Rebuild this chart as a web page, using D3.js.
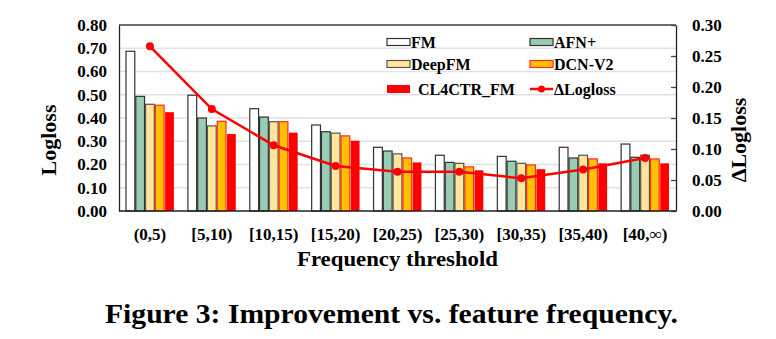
<!DOCTYPE html>
<html><head><meta charset="utf-8">
<script src="https://cdn.jsdelivr.net/npm/d3@7"></script>
<style>body{margin:0;background:#fff}svg{display:block}text{font-family:"Liberation Serif","Times New Roman",serif;font-weight:bold}</style>
</head><body>
<svg id="c" width="776" height="339"></svg>
<script>
const categories = ["(0,5)","[5,10)","[10,15)","[15,20)","[20,25)","[25,30)","[30,35)","[35,40)","[40,\u221E)"];
const seriesNames = ["FM","AFN+","DeepFM","DCN-V2","CL4CTR_FM"];
const FM      = [0.687,0.498,0.440,0.370,0.274,0.240,0.235,0.274,0.288];
const AFN     = [0.493,0.400,0.404,0.341,0.258,0.209,0.214,0.228,0.231];
const DeepFM  = [0.459,0.366,0.384,0.335,0.246,0.205,0.205,0.240,0.240];
const DCNV2   = [0.455,0.386,0.384,0.323,0.228,0.190,0.198,0.224,0.224];
const CL4CTR  = [0.425,0.331,0.337,0.302,0.209,0.175,0.180,0.205,0.205];
const deltaLogloss = [0.2656,0.1645,0.106,0.0726,0.0634,0.0634,0.0527,0.067,0.0855];
const leftTicks = [0,0.1,0.2,0.3,0.4,0.5,0.6,0.7,0.8];
const rightTicks = [0,0.05,0.1,0.15,0.2,0.25,0.3];

const series = [FM, AFN, DeepFM, DCNV2, CL4CTR];
const fills   = ["#ffffff","#98cdb3","#ffe69b","#ffc000","#ff0000"];
const strokes = ["#333333","#333333","#555555","#ff2a2a","none"];

const svg = d3.select("#c");
const L = 119, R = 676, T = 25, B = 211;
const x = d3.scaleBand().domain(categories).range([L, R]).paddingInner(0.21).paddingOuter(0.105);
const xs = d3.scaleBand().domain(d3.range(5)).range([0, x.bandwidth()]);
const y = d3.scaleLinear().domain([0, 0.8]).range([B, T]);
const y2 = d3.scaleLinear().domain([0, 0.3]).range([B, T]);

// grid
svg.append("g").selectAll("line").data(leftTicks.slice(1)).join("line")
  .attr("x1", L).attr("x2", R).attr("y1", d => y(d)).attr("y2", d => y(d))
  .attr("stroke", "#e2e2e2").attr("stroke-width", 1.5);

// bars
series.forEach((vals, si) => {
  svg.append("g").selectAll("rect").data(vals).join("rect")
    .attr("x", (d, i) => x(categories[i]) + xs(si) + 0.5)
    .attr("y", d => y(d))
    .attr("width", xs.bandwidth() - 1)
    .attr("height", d => B - y(d))
    .attr("fill", fills[si])
    .attr("stroke", strokes[si])
    .attr("stroke-width", 1.2);
});

// frame
svg.append("line").attr("x1", L).attr("x2", R).attr("y1", T).attr("y2", T).attr("stroke", "#444").attr("stroke-width", 1.3);
// left axis
const gl = svg.append("g").attr("transform", `translate(${L},0)`)
  .call(d3.axisLeft(y).tickValues(leftTicks).tickFormat(d3.format(".2f")).tickSize(0).tickPadding(12));
gl.select(".domain").attr("stroke", "#222").attr("stroke-width", 1.3);
gl.selectAll("text").attr("font-size", 17).attr("fill", "#000");
// right axis
const gr = svg.append("g").attr("transform", `translate(${R},0)`)
  .call(d3.axisRight(y2).tickValues(rightTicks).tickFormat(d3.format(".2f")).tickSizeInner(-5).tickSizeOuter(0).tickPadding(16));
gr.select(".domain").attr("stroke", "#222").attr("stroke-width", 1.3);
gr.selectAll(".tick line").attr("stroke", "#444").attr("stroke-width", 1.3);
gr.selectAll("text").attr("font-size", 17).attr("fill", "#000");
// bottom axis
svg.append("line").attr("x1", L).attr("x2", R).attr("y1", B).attr("y2", B).attr("stroke", "#222").attr("stroke-width", 1.3);
const gb = svg.append("g").attr("transform", `translate(0,${B})`)
  .call(d3.axisBottom(x).tickSize(0).tickPadding(17));
gb.select(".domain").remove();
gb.selectAll("text").attr("font-size", 17).attr("fill", "#000");

// delta line
const line = d3.line().x((d, i) => x(categories[i]) + x.bandwidth() / 2).y(d => y2(d));
svg.append("path").datum(deltaLogloss).attr("d", line).attr("fill", "none").attr("stroke", "#ff0000").attr("stroke-width", 2.5);
svg.append("g").selectAll("circle").data(deltaLogloss).join("circle")
  .attr("cx", (d, i) => x(categories[i]) + x.bandwidth() / 2).attr("cy", d => y2(d)).attr("r", 4).attr("fill", "#ff0000");

// axis titles
svg.append("text").attr("transform", "translate(56,140) rotate(-90)").attr("text-anchor", "middle")
  .attr("font-size", 22).text("Logloss");
svg.append("text").attr("transform", "translate(746,140) rotate(-90)").attr("text-anchor", "middle")
  .attr("font-size", 22).text("\u0394Logloss");
svg.append("text").attr("x", 297).attr("y", 266).attr("font-size", 21)
  .attr("textLength", 201).attr("lengthAdjust", "spacingAndGlyphs").text("Frequency threshold");
svg.append("text").attr("x", 105).attr("y", 323).attr("font-size", 28)
  .attr("textLength", 573).attr("lengthAdjust", "spacingAndGlyphs")
  .text("Figure 3: Improvement vs. feature frequency.");

// legend
const legend = [
  {name: seriesNames[0], i: 0, cx: 387, cy: 42},
  {name: seriesNames[1], i: 1, cx: 530, cy: 42},
  {name: seriesNames[2], i: 2, cx: 387, cy: 64},
  {name: seriesNames[3], i: 3, cx: 530, cy: 64},
  {name: seriesNames[4], i: 4, cx: 387, cy: 89},
  {name: "\u0394Logloss", i: 5, cx: 530, cy: 89}
];
const lg = svg.append("g");
legend.forEach(l => {
  if (l.i < 4) {
    lg.append("rect").attr("x", l.cx).attr("y", l.cy - 3.5).attr("width", 23).attr("height", 7)
      .attr("fill", fills[l.i]).attr("stroke", strokes[l.i]).attr("stroke-width", 1.2);
    lg.append("text").attr("x", l.cx + 24).attr("y", l.cy + 5.5).attr("font-size", 16).text(l.name);
  } else if (l.i === 4) {
    lg.append("rect").attr("x", l.cx).attr("y", l.cy - 4).attr("width", 23).attr("height", 8).attr("fill", fills[4]);
    lg.append("text").attr("x", l.cx + 31).attr("y", l.cy + 5.5).attr("font-size", 16).text(l.name);
  } else {
    lg.append("line").attr("x1", l.cx).attr("x2", l.cx + 23).attr("y1", l.cy).attr("y2", l.cy).attr("stroke", "#ff0000").attr("stroke-width", 2.5);
    lg.append("circle").attr("cx", l.cx + 11.5).attr("cy", l.cy).attr("r", 3.5).attr("fill", "#ff0000");
    lg.append("text").attr("x", l.cx + 24).attr("y", l.cy + 5.5).attr("font-size", 16).text(l.name);
  }
});
</script>
</body></html>
